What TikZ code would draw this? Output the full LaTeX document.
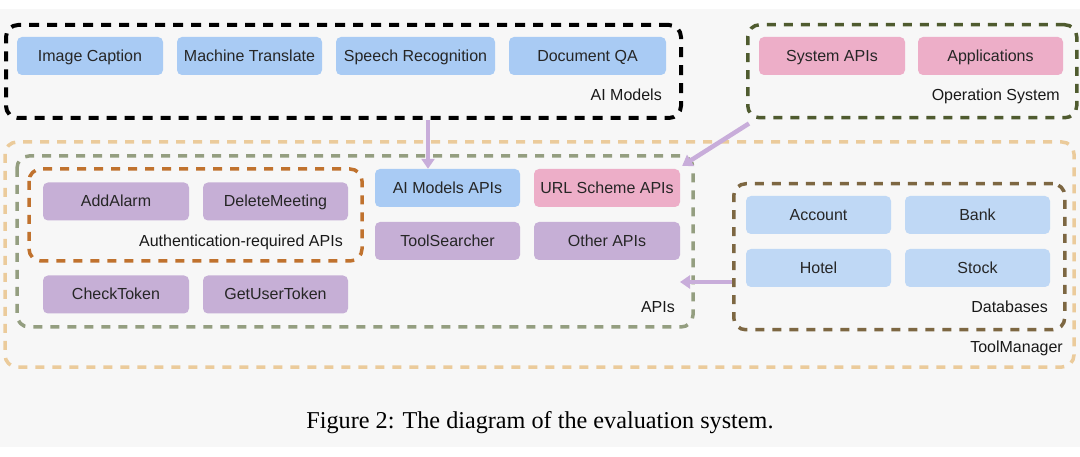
\documentclass[tikz,border=0pt]{standalone}
\usepackage{fontspec}
\setmainfont{Liberation Serif}
\newfontfamily\labfont{Liberation Sans}
\usetikzlibrary{arrows.meta}
\definecolor{bggray}{HTML}{F7F7F7}
\definecolor{nblue}{HTML}{A9CBF4}
\definecolor{dblue}{HTML}{BFD8F5}
\definecolor{npink}{HTML}{EDAEC8}
\definecolor{npurple}{HTML}{C6AFD6}
\definecolor{arrpurple}{HTML}{C8ADDA}
\definecolor{osgreen}{HTML}{4F5B2F}
\definecolor{tmtan}{HTML}{EBCB9B}
\definecolor{apigreen}{HTML}{949E80}
\definecolor{authorange}{HTML}{C0722E}
\definecolor{dbbrown}{HTML}{7D6742}
\tikzset{
  item/.style={rounded corners=5pt, minimum height=38pt, inner sep=0pt,
    text height=12.6pt, text depth=2.4pt,
    font=\labfont\fontsize{16}{19}\selectfont, text=black!85},
  blueitem/.style={item, fill=nblue},
  dbitem/.style={item, fill=dblue, minimum width=145pt},
  pinkitem/.style={item, fill=npink},
  purpitem/.style={item, fill=npurple},
  group/.style={rounded corners=12pt, line width=3.5pt, dash pattern=on 9pt off 8pt, minimum width=#1, inner sep=0pt},
  grouplabel/.style={anchor=east, inner sep=0pt, text height=12.6pt, text depth=2.4pt, font=\labfont\fontsize{16}{19}\selectfont, text=black!90},
  arr/.style={draw=arrpurple, line width=4.5pt, -{Triangle[width=13pt,length=10pt]}},
}
\begin{document}
\begin{tikzpicture}[x=1pt,y=-1pt]
\useasboundingbox (0,0) rectangle (1080,457);
\fill[bggray] (0,9) rectangle (1080,447);

% containers
\draw[group, draw=tmtan] (5,142) rectangle (1074,367);
\node[grouplabel] (tmlab) at (1063,347) {ToolManager};

\draw[group, draw=apigreen] (17,156) rectangle (693,327);
\node[grouplabel] (apilab) at (675,307) {APIs};

\draw[group, draw=authorange] (29,169) rectangle (362,261);
\node[grouplabel] (authlab) at (343,241) {Authentication-required APIs};

\node[group, draw=dbbrown, minimum width=331pt, minimum height=146pt, anchor=north west] (dbbox) at (732,182) {};
\node[grouplabel] (dblab) at (1048,307) {Databases};

\node[group, draw=black, line width=4pt, dash pattern=on 10pt off 8pt, minimum width=675pt, minimum height=93pt, anchor=north west] (aibox) at (4,23) {};
\node[grouplabel] (ailab) at (662,95) {AI Models};

\node[group, draw=osgreen, minimum width=329pt, minimum height=93pt, anchor=north west] (osbox) at (746,23) {};
\node[grouplabel] (oslab) at (1060,95) {Operation System};

% AI models
\node[blueitem, minimum width=146pt] (ic) at (90,56) {Image Caption};
\node[blueitem, minimum width=145pt] (mt) at (249.5,56) {Machine Translate};
\node[blueitem, minimum width=159pt] (sr) at (415.5,56) {Speech Recognition};
\node[blueitem, minimum width=157pt] (dqa) at (587.5,56) {Document QA};

% OS
\node[pinkitem, minimum width=146pt] (sys) at (832,56) {System APIs};
\node[pinkitem, minimum width=145pt] (app) at (990.5,56) {Applications};

% APIs
\node[purpitem, minimum width=146pt] (alarm) at (116,201.5) {AddAlarm};
\node[purpitem, minimum width=145pt] (delm) at (275.5,201.5) {DeleteMeeting};
\node[purpitem, minimum width=146pt] (check) at (116,294.5) {CheckToken};
\node[purpitem, minimum width=145pt] (getu) at (275.5,294.5) {GetUserToken};
\node[blueitem, minimum width=145pt] (aiapi) at (447.5,188) {AI Models APIs};
\node[pinkitem, minimum width=146pt] (url) at (607,188) {URL Scheme APIs};
\node[purpitem, minimum width=145pt] (tools) at (447.5,241) {ToolSearcher};
\node[purpitem, minimum width=146pt] (other) at (607,241) {Other APIs};

% Databases
\node[dbitem] (acc) at (818.5,215) {Account};
\node[dbitem] (bank) at (977.5,215) {Bank};
\node[dbitem] (hotel) at (818.5,268) {Hotel};
\node[dbitem] (stock) at (977.5,268) {Stock};

% arrows
\coordinate (aix) at (428,0);
\draw[arr] (aibox.south -| aix) -- (aiapi.north -| aix);
\draw[arr] ([shift={(3pt,-4pt)}]osbox.south west) -- ([shift={(2pt,3pt)}]url.north east);
\coordinate (dby) at (0,282);
\coordinate (apix) at (680,0);
\draw[arr] (dbbox.west |- dby) -- (apix |- dby);

% caption
\node[anchor=base, inner sep=0pt, font=\fontsize{24.2}{28}\selectfont] (cap) at (540,428) {Figure 2: The diagram of the evaluation system.};
\end{tikzpicture}
\end{document}
